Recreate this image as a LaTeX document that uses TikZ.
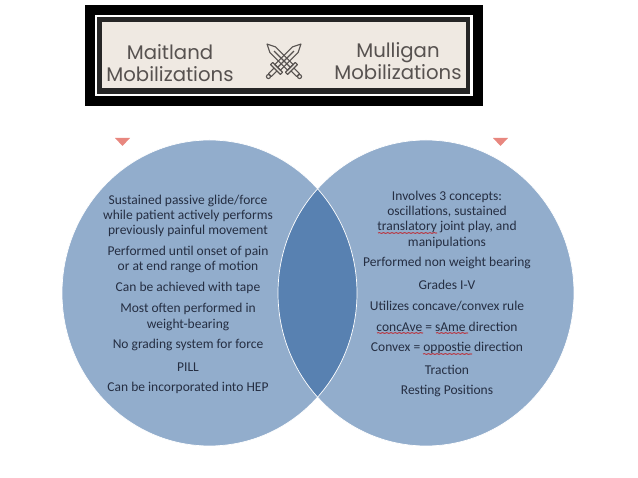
\documentclass[tikz,border=0pt]{standalone}
\usepackage{fontspec}
\setmainfont{Carlito}
\newfontfamily\titlefont{Poppins}
\usepackage{xcolor}
\usetikzlibrary{decorations.pathmorphing}

\definecolor{circleblue}{HTML}{92ADCC}
\definecolor{lensblue}{HTML}{5881B1}
\definecolor{panelbeige}{HTML}{EFE9E2}
\definecolor{titlegray}{HTML}{575250}
\definecolor{bodyink}{HTML}{252E42}
\definecolor{marksalmon}{HTML}{E8877F}

\tikzset{
  titletext/.style={font=\titlefont\fontsize{14}{15.7}\selectfont, text=titlegray, align=center, inner sep=0pt},
  bodytext/.style={font=\fontsize{9.6}{10.9}\selectfont, text=bodyink, align=center, inner sep=0pt},
  swordline/.style={draw=titlegray, line width=0.8pt, line join=round},
  squiggle/.style={draw=red!80!black, line width=0.5pt, decorate, decoration={snake, amplitude=0.25pt, segment length=3pt}},
  marker/.style={fill=marksalmon, draw=none}
}

\begin{document}
\begin{tikzpicture}[x=0.25mm, y=-0.25mm]
    \useasboundingbox (0,0) rectangle (638,478);

    % title panel
    \fill[black] (85,5) rectangle (483,106);
    \fill[white] (95,15) rectangle (473,96);
    \fill[black!85] (97,17) rectangle (470,94);
    \fill[panelbeige] (102,22) rectangle (466,88);

    \node[titletext] (maitland) at (170,63) {Maitland\\Mobilizations};
    \node[titletext] (mulligan) at (398,61) {Mulligan\\Mobilizations};

    % crossed swords
    \foreach \sgn in {1,-1} {
      \begin{scope}[shift={(284,61)}, xscale=\sgn, rotate=-45]
        \draw[swordline] (-24,0) -- (-16,4) -- (9,4) -- (9,-4) -- (-16,-4) -- cycle;
        \draw[swordline] (-14,0) -- (9,0);
        \draw[swordline] (9,-7) -- (12,-7) -- (12,7) -- (9,7) -- cycle;
        \draw[swordline] (12,-2) -- (20,-2) -- (20,2) -- (12,2);
        \draw[swordline] (22,0) circle (2);
      \end{scope}
    }

    % small marks above the circles
    \fill[marker] (115,138) -- (130,138) -- (122.5,146) -- cycle;
    \fill[marker] (493,138) -- (508,138) -- (500.5,146) -- cycle;

    % venn circles
    \fill[circleblue] (209.5,293) ellipse (147.5 and 153);
    \fill[circleblue] (426,293) ellipse (148 and 153);
    \begin{scope}
      \clip (209.5,293) ellipse (147.5 and 153);
      \fill[lensblue] (426,293) ellipse (148 and 153);
    \end{scope}
    \draw[white, line width=0.5pt] (209.5,293) ellipse (147.5 and 153);
    \draw[white, line width=0.5pt] (426,293) ellipse (148 and 153);

    % left column
    \node[bodytext] (l1) at (188,216) {Sustained passive glide/force\\while patient actively performs\\previously painful movement};
    \node[bodytext] (l2) at (188,259.5) {Performed until onset of pain\\or at end range of motion};
    \node[bodytext] (l3) at (188,288) {Can be achieved with tape};
    \node[bodytext] (l4) at (188,317) {Most often performed in\\weight-bearing};
    \node[bodytext] (l5) at (188,345) {No grading system for force};
    \node[bodytext] (l6) at (188,367) {PILL};
    \node[bodytext] (l7) at (188,388) {Can be incorporated into HEP};

    % right column
    \node[bodytext] (r1) at (447,219.5) {Involves 3 concepts:\\oscillations, sustained\\translatory joint play, and\\manipulations};
    \node[bodytext] (r2) at (447,263) {Performed non weight bearing};
    \node[bodytext] (r3) at (447,285) {Grades I-V};
    \node[bodytext] (r4) at (447,306) {Utilizes concave/convex rule};
    \node[bodytext] (r5) at (447,327) {concAve = sAme direction};
    \node[bodytext] (r6) at (447,348) {Convex = oppostie direction};
    \node[bodytext] (r7) at (447,370) {Traction};
    \node[bodytext] (r8) at (447,391) {Resting Positions};

    % spell check underlines
    \draw[squiggle] (378,233) -- (437,233);
    \draw[squiggle] (377,333) -- (423,333);
    \draw[squiggle] (436,333) -- (468,333);
    \draw[squiggle] (423,354) -- (472,354);
  \end{tikzpicture}
\end{document}
